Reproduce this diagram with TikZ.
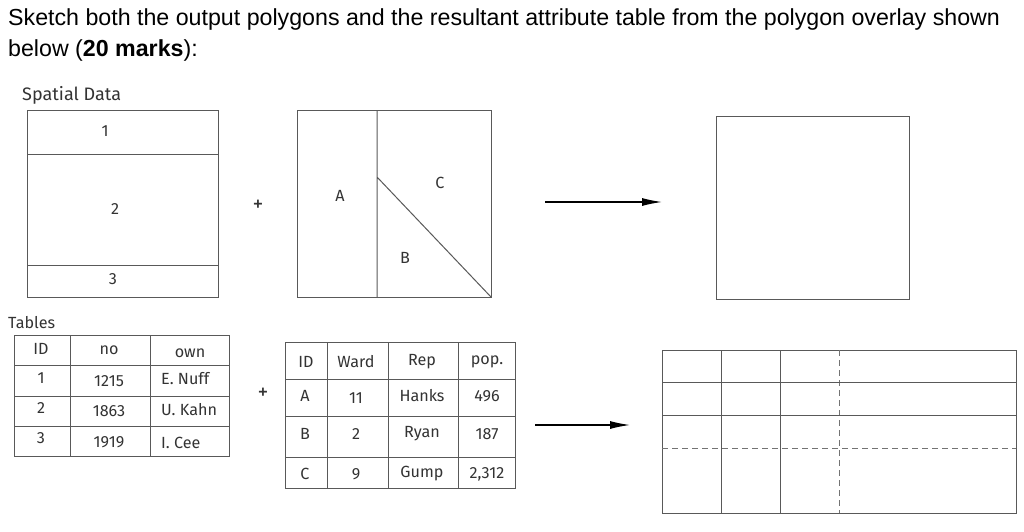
\documentclass[tikz,border=0pt]{standalone}
\usepackage{fontspec}
\setmainfont{Liberation Sans}
\newfontfamily\handf{Fira Sans}[Scale=0.95]
\usetikzlibrary{arrows.meta}
\begin{document}
\begin{tikzpicture}[x=1pt,y=-1pt,
  ln/.style={draw=black!65,line width=1pt},
  dl/.style={draw=black!55,line width=1pt,dash pattern=on 6pt off 4pt},
  lab/.style={font=\handf\fontsize{17}{19}\selectfont,text=black!80,inner sep=0pt},
  arr/.style={draw=black,line width=1.2pt,-{Latex[length=20pt,width=8pt]}}]
\useasboundingbox (0,0) rectangle (1024,531);
\node[anchor=west,font=\fontsize{23.2}{26}\selectfont,inner sep=0pt] (t1) at (8,19) {Sketch both the output polygons and the resultant attribute table from the polygon overlay shown};
\node[anchor=west,font=\fontsize{23.2}{26}\selectfont,inner sep=0pt] (t2) at (8,50) {below (\textbf{20 marks}):};
\node[lab,anchor=west,font=\handf\fontsize{19}{22}\selectfont] (sd) at (22,95) {Spatial Data};
\node[lab,anchor=west,font=\handf\fontsize{17}{20}\selectfont] (tb) at (8,323) {Tables};
% box 1
\draw[ln] (27,110) rectangle (218,297);
\draw[ln] (27,154) -- (218,154) (27,265) -- (218,265);
\node[lab] (p1) at (105,131) {1};
\node[lab] (p2) at (115,209) {2};
\node[lab] (p3) at (113,279) {3};
\node[lab,font=\bfseries\fontsize{16}{18}\selectfont] (pl1) at (258,205) {+};
% box 2
\draw[ln] (297,110) rectangle (491,297);
\draw[ln] (377,110) -- (377,297) (377,177) -- (491,297);
\node[lab] (pa) at (340,196) {A};
\node[lab] (pb) at (405,258) {B};
\node[lab] (pc) at (440,183) {C};
% arrow 1
\coordinate (a1s) at (545,202); \coordinate (a1e) at (662,202);
\draw[arr] (a1s) -- (a1e);
\draw[ln] (716,116) rectangle (909,299);
% table 1
\draw[ln] (14,335) rectangle (229,456);
\draw[ln] (70,335) -- (70,456) (150,335) -- (150,456);
\draw[ln] (14,365) -- (229,365) (14,396) -- (229,396) (14,426) -- (229,426);
\node[lab] at (41,349) {ID};
\node[lab] at (41,378) {1};
\node[lab] at (41,408) {2};
\node[lab] at (41,438) {3};
\node[lab] at (109,350) {no};
\node[lab] at (109,381) {1215};
\node[lab] at (109,411) {1863};
\node[lab] at (109,442) {1919};
\node[lab] at (190,353) {own};
\node[lab,anchor=west] at (161,379) {E. Nuff};
\node[lab,anchor=west] at (161,410) {U. Kahn};
\node[lab,anchor=west] at (161,443) {I. Cee};
\node[lab,font=\bfseries\fontsize{16}{18}\selectfont] (pl2) at (263,393) {+};
% table 2
\draw[ln] (285,342) rectangle (515,488);
\draw[ln] (327,342) -- (327,488) (388,342) -- (388,488) (458,342) -- (458,488);
\draw[ln] (285,379) -- (515,379) (285,416) -- (515,416) (285,457) -- (515,457);
\node[lab] at (306,362) {ID};
\node[lab] at (356,362) {Ward};
\node[lab] at (422,362) {Rep};
\node[lab] at (487,362) {pop.};
\node[lab] at (305,396) {A};
\node[lab] at (356,398) {11};
\node[lab] at (422,396) {Hanks};
\node[lab] at (487,396) {496};
\node[lab] at (305,434) {B};
\node[lab] at (356,434) {2};
\node[lab] at (422,434) {Ryan};
\node[lab] at (487,434) {187};
\node[lab] at (305,474) {C};
\node[lab] at (356,474) {9};
\node[lab] at (422,474) {Gump};
\node[lab] at (487,474) {2,312};
% arrow 2
\coordinate (a2s) at (535,425); \coordinate (a2e) at (630,425);
\draw[arr] (a2s) -- (a2e);
% output table
\draw[ln] (662,350) rectangle (1016,513);
\draw[ln] (721,350) -- (721,513) (780,350) -- (780,513);
\draw[dl] (839,350) -- (839,513);
\draw[ln] (662,382) -- (1016,382) (662,415) -- (1016,415);
\draw[dl] (662,448) -- (1016,448);
\end{tikzpicture}
\end{document}
